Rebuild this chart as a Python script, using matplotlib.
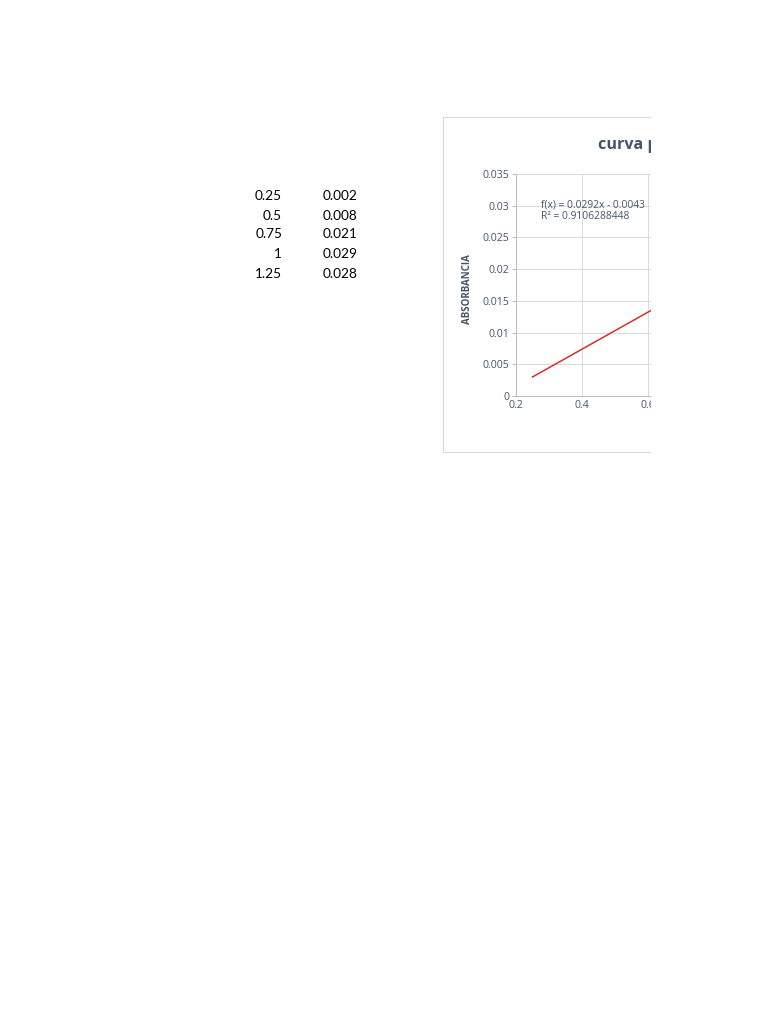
import numpy as np
import matplotlib.pyplot as plt
from matplotlib.patches import Rectangle

# data (table on the page)
concentracion = [0.25, 0.5, 0.75, 1, 1.25]
absorbancia = [0.002, 0.008, 0.021, 0.029, 0.028]
conc_labels = ['0.25', '0.5', '0.75', '1', '1.25']
abs_labels = ['0.002', '0.008', '0.021', '0.029', '0.028']

titulo = 'curva patrón'
ylabel = 'ABSORBANCIA'
xticks = [0.2, 0.4, 0.6, 0.8]
yticks = [0, 0.005, 0.01, 0.015, 0.02, 0.025, 0.03, 0.035]

W, H = 768, 1024
TXT = '#44546a'
GRID = '#d9d9d9'

def fx(px):
    return px / W

def fy(py):
    return 1 - py / H

fig = plt.figure(figsize=(W / 100, H / 100), dpi=100)

# table
rows_y = [196.5, 215.5, 234.5, 253.5, 273.5]
for c, a, y in zip(conc_labels, abs_labels, rows_y):
    fig.text(fx(282), fy(y), c, ha='right', va='center', fontsize=9.8, family='Lato')
    fig.text(fx(323), fy(y), a, ha='left', va='center', fontsize=9.8, family='Lato')

# chart frame
fig.add_artist(Rectangle((fx(443), fy(452)), fx(420), (452 - 117) / H,
                         transform=fig.transFigure, fill=False, edgecolor=GRID, lw=0.8))

ax = fig.add_axes([fx(516), fy(396), fx(396), 222 / H])
slope, intercept = np.polyfit(concentracion, absorbancia, 1)
pred = np.polyval([slope, intercept], concentracion)
r2 = 1 - np.sum((np.array(absorbancia) - pred) ** 2) / np.sum((np.array(absorbancia) - np.mean(absorbancia)) ** 2)
xs = np.array([min(concentracion), max(concentracion)])
ax.plot(xs, slope * xs + intercept, color='#d0302f', lw=1.1)

ax.set_xlim(0.2, 1.4)
ax.set_ylim(0, 0.035)
ax.set_xticks(xticks)
ax.set_yticks(yticks)
ax.set_xticklabels([('%g' % t) for t in xticks])
ax.set_yticklabels([('%g' % t) for t in yticks])
ax.grid(True, color=GRID, lw=0.7)
ax.set_axisbelow(True)
for s in ['top', 'right']:
    ax.spines[s].set_visible(False)
for s in ['left', 'bottom']:
    ax.spines[s].set_color('#bfbfbf')
    ax.spines[s].set_linewidth(0.8)
ax.tick_params(axis='y', length=3, color='#bfbfbf', labelsize=7.6, labelcolor=TXT, pad=2)
ax.tick_params(axis='x', length=0, labelsize=7.6, labelcolor=TXT, pad=3)
for lab in ax.get_xticklabels() + ax.get_yticklabels():
    lab.set_family('Open Sans')

ax.text(0.277, 0.0292, 'f(x) = %.4fx - %.4f\nR² = %.10f' % (slope, -intercept, r2),
        fontsize=7.4, color=TXT, family='Open Sans', va='center', ha='left', linespacing=1.0)

fig.text(fx(467), fy(289), ylabel, rotation=90, ha='center', va='center',
         fontsize=7, fontweight='bold', color=TXT, family='Open Sans')
fig.text(fx(598), fy(145), titulo, ha='left', va='center',
         fontsize=11.6, fontweight='bold', color=TXT, family='Open Sans')

# the page cuts the chart off on the right
fig.add_artist(Rectangle((fx(651), 0), 1, 1, transform=fig.transFigure,
                         facecolor='white', edgecolor='none', zorder=10))

fig.savefig('out.png', dpi=100)
